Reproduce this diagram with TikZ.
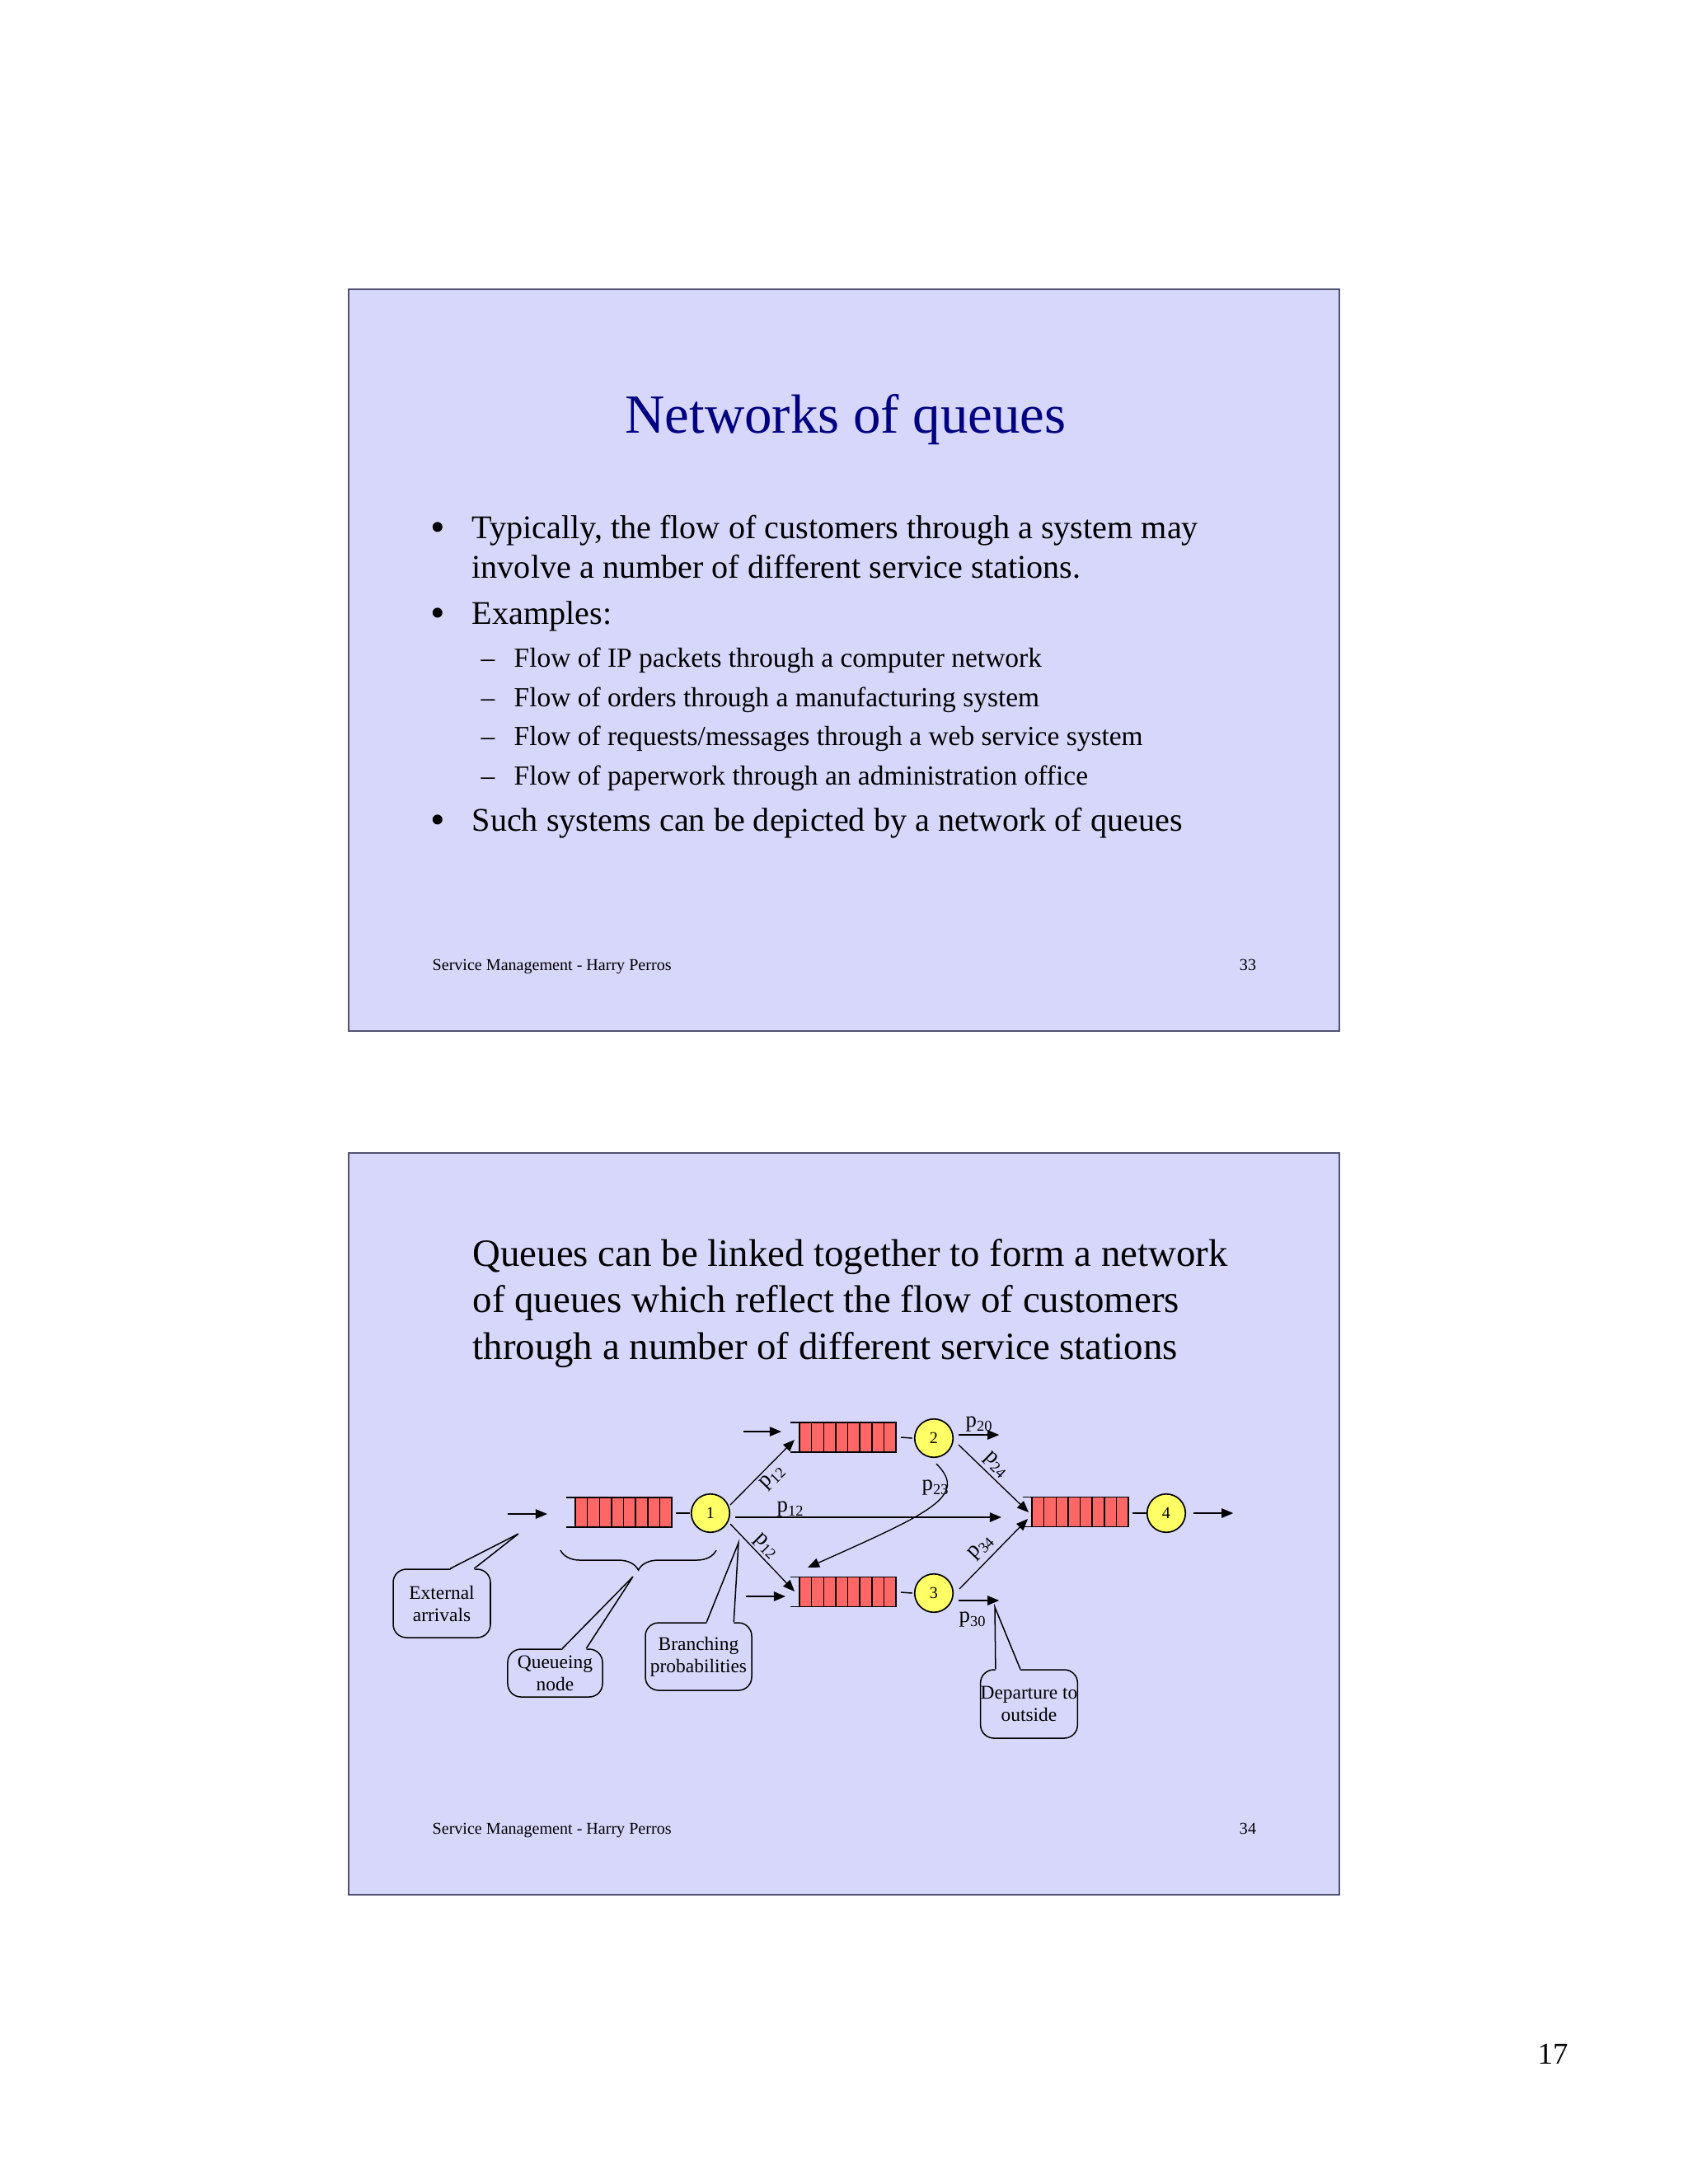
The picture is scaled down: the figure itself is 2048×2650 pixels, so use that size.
\documentclass[tikz,border=0pt]{standalone}
\usepackage{fontspec}
\setmainfont{Liberation Serif}
\usetikzlibrary{calc,arrows.meta,decorations.pathreplacing}
\definecolor{slidebg}{RGB}{215,215,252}
\definecolor{slideedge}{RGB}{80,80,112}
\definecolor{qred}{RGB}{255,102,102}
\definecolor{syellow}{RGB}{255,255,102}
\definecolor{titleblue}{RGB}{0,0,128}
\newcommand\plab[1]{p\raisebox{-1.6pt}{\fontsize{5.5}{6}\selectfont #1}}
\newcommand\drawqueue[3]{%
  \node[queuebox] (#1) at (#2,#3) {};
  \foreach \k in {1,...,7} {\draw[thinline] ($(#1.north west)!\k/8!(#1.north east)$) -- ($(#1.south west)!\k/8!(#1.south east)$);}
  \draw[thinline] ($(#1.north west)+(-11,0)$) -- (#1.north west);
  \draw[thinline] ($(#1.south west)+(-11,0)$) -- (#1.south west);
}
\begin{document}
\begin{tikzpicture}[x=0.29883pt,y=-0.29883pt,
  slide/.style={fill=slidebg,draw=slideedge,line width=0.5pt},
  txt/.style={inner sep=0pt,anchor=base west},
  thinline/.style={line width=0.45pt},
  queuebox/.style={draw,fill=qred,minimum width=34.96pt,minimum height=10.76pt,inner sep=0pt,outer sep=0pt,line width=0.45pt},
  server/.style={circle,draw,fill=syellow,minimum size=13.9pt,inner sep=0pt,outer sep=0pt,line width=0.5pt,font=\fontsize{6}{7}\selectfont},
  arr/.style={-{Triangle[length=4.2pt,width=3.4pt]},line width=0.4pt},
  callout/.style={draw,fill=slidebg,rounded corners=4.8pt,align=center,inner sep=0pt,line width=0.45pt,font=\fontsize{7}{8.07}\selectfont},
  plabel/.style={inner sep=0pt,font=\fontsize{8}{9}\selectfont},
  bodyA/.style={font=\fontsize{12}{14}\selectfont},
  bodyB/.style={font=\fontsize{10}{12}\selectfont},
  bul/.style={inner sep=0pt,anchor=base,font=\fontsize{15}{17}\selectfont},
  foot/.style={font=\fontsize{6}{7}\selectfont}
]
\useasboundingbox (0,0) rectangle (2048,2650);
\fill[white] (0,0) rectangle (2048,2650);

% ---------- slide 33 ----------
\draw[slide] (423,351) rectangle (1625,1251);
\node[inner sep=0pt,anchor=base,text=titleblue,font=\fontsize{20}{24}\selectfont] (t1) at (1026,525) {Networks of queues};
\node[bul] (b1) at (531,656) {•};
\node[txt,bodyA] (l1) at (572,653) {Typically, the flow of customers through a system may};
\node[txt,bodyA] (l2) at (572,701) {involve a number of different service stations.};
\node[bul] (b2) at (531,760) {•};
\node[txt,bodyA] (l3) at (572,757) {Examples:};
\node[txt,anchor=base,bodyB] (d1) at (592,809) {–};
\node[txt,bodyB] (s1t) at (623,809) {Flow of IP packets through a computer network};
\node[txt,anchor=base,bodyB] (d2) at (592,857) {–};
\node[txt,bodyB] (s2t) at (623,857) {Flow of orders through a manufacturing system};
\node[txt,anchor=base,bodyB] (d3) at (592,904) {–};
\node[txt,bodyB] (s3t) at (623,904) {Flow of requests/messages through a web service system};
\node[txt,anchor=base,bodyB] (d4) at (592,952) {–};
\node[txt,bodyB] (s4t) at (623,952) {Flow of paperwork through an administration office};
\node[bul] (b3) at (531,1011) {•};
\node[txt,bodyA] (l4) at (572,1008) {Such systems can be depicted by a network of queues};
\node[txt,foot] (f1) at (524,1177) {Service Management - Harry Perros};
\node[txt,anchor=base,foot] (n1) at (1514,1177) {33};

% ---------- slide 34 ----------
\draw[slide] (423,1399) rectangle (1625,2299);
\node[txt,font=\fontsize{14}{17}\selectfont] (m1) at (573,1536) {Queues can be linked together to form a network};
\node[txt,font=\fontsize{14}{17}\selectfont] (m2) at (573,1592) {of queues which reflect the flow of customers};
\node[txt,font=\fontsize{14}{17}\selectfont] (m3) at (573,1649) {through a number of different service stations};
\node[txt,foot] (f2) at (524,2225) {Service Management - Harry Perros};
\node[txt,anchor=base,foot] (n2) at (1514,2225) {34};

% queues and servers
\drawqueue{q1}{756.5}{1835}
\drawqueue{q2}{1028.5}{1744}
\drawqueue{q3}{1028.5}{1931.5}
\drawqueue{q4}{1310.5}{1834.5}
\node[server] (sv1) at (862,1836) {1};
\node[server] (sv2) at (1133,1745) {2};
\node[server] (sv3) at (1133,1933) {3};
\node[server] (sv4) at (1415,1836) {4};
\draw[thinline] ($(q1.east)+(5,1)$) -- ($(sv1.west)+(-2,0)$);
\draw[thinline] ($(q2.east)+(6,0)$) -- ($(sv2.west)+(-3,0)$);
\draw[thinline] ($(q3.east)+(6,0.5)$) -- ($(sv3.west)+(-3,0)$);
\draw[thinline] ($(q4.east)+(5,1.5)$) -- ($(sv4.west)+(-1,0)$);

% arrows
\draw[arr] ($(q1.west)+(-82,2)$) -- ($(q1.west)+(-34,2)$);
\draw[arr] ($(q2.west)+(-68,-7)$) -- ($(q2.west)+(-22,-7)$);
\draw[arr] ($(q3.west)+(-65,5.5)$) -- ($(q3.west)+(-17,5.5)$);
\draw[arr] ($(sv4.east)+(10,0)$) -- ($(sv4.east)+(58,0)$);
\draw[arr] ($(sv2.east)+(7,-4)$) -- ($(sv2.east)+(56,-4)$);
\draw[arr] ($(sv3.east)+(7,9)$) -- ($(sv3.east)+(56,9)$);
\draw[arr] ($(sv1)+(24,-10)$) -- ($(q2.west)+(-6,3)$);
\draw[arr] ($(sv1)+(24,13)$) -- ($(q3.west)+(-6,-0.5)$);
\draw[arr] ($(sv1)+(30,5)$) -- ($(q4.west)+(-37,6.5)$);
\draw[arr] ($(sv2)+(30,8)$) -- ($(q4.west)+(-4,0.5)$);
\draw[arr] ($(sv3)+(31,-5)$) -- ($(q4.west)+(-5,8.5)$);
\draw[arr] ($(sv2)+(3,31)$) .. controls (1175,1815) and (1130,1835) .. ($(q3.north west)+(10,-11.5)$);

% branch labels
\node[plabel,anchor=base west] (p12h) at (942,1834) {\plab{12}};
\node[plabel,anchor=base west] (p20) at (1171,1731) {\plab{20}};
\node[plabel,anchor=base west] (p23) at (1118,1808) {\plab{23}};
\node[plabel,anchor=base west] (p30) at (1163,1968) {\plab{30}};
\node[plabel,rotate=45] (p12u) at (937,1793) {\plab{12}};
\node[plabel,rotate=-45] (p12d) at (929,1876) {\plab{12}};
\node[plabel,rotate=-44] (p24) at (1208,1777) {\plab{24}};
\node[plabel,rotate=46] (p34) at (1190,1878) {\plab{34}};

% brace
\draw[thinline,decorate,decoration={brace,mirror,amplitude=7.2pt,aspect=0.5}] (680,1881) -- (869,1881);

% callouts
\node[callout,minimum width=35.26pt,minimum height=24.80pt] (ext) at (536,1945.5) {External\\arrivals};
\coordinate (extTip) at (629,1861);
\fill[slidebg] ($(ext.north west)+(70,1.6)$) -- (extTip) -- ($(ext.north west)+(99,1.6)$) -- cycle;
\draw[thinline] ($(ext.north west)+(70,0)$) -- (extTip) -- ($(ext.north west)+(99,0)$);

\node[callout,minimum width=34.37pt,minimum height=17.33pt] (qn) at (673.5,2030) {Queueing\\node};
\coordinate (qnTip) at (768,1913);
\fill[slidebg] ($(qn.north west)+(67,1.6)$) -- (qnTip) -- ($(qn.north west)+(96,1.6)$) -- cycle;
\draw[thinline] ($(qn.north west)+(67,0)$) -- (qnTip) -- ($(qn.north west)+(96,0)$);

\node[callout,minimum width=38.55pt,minimum height=24.50pt] (bp) at (847.5,2010) {Branching\\probabilities};
\coordinate (bpTip) at (896,1872);
\fill[slidebg] ($(bp.north west)+(75,1.6)$) -- (bpTip) -- ($(bp.north west)+(108,1.6)$) -- cycle;
\draw[thinline] ($(bp.north west)+(75,0)$) -- (bpTip) -- ($(bp.north west)+(108,0)$);

\node[callout,minimum width=34.96pt,minimum height=24.80pt] (dep) at (1248.5,2067.5) {Departure to\\outside};
\coordinate (depTip) at (1207,1950);
\fill[slidebg] ($(dep.north west)+(19,1.6)$) -- (depTip) -- ($(dep.north west)+(49,1.6)$) -- cycle;
\draw[thinline] ($(dep.north west)+(19,0)$) -- (depTip) -- ($(dep.north west)+(49,0)$);

% page number
\node[txt,anchor=base,font=\fontsize{11}{13}\selectfont] (pg) at (1884,2504) {17};
\end{tikzpicture}
\end{document}
